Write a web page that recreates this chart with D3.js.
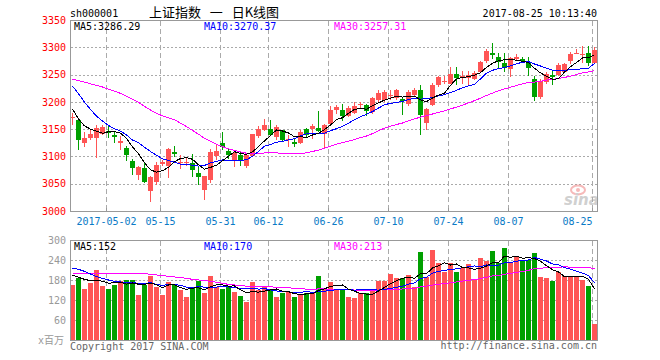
<!DOCTYPE html>
<html><head><meta charset="utf-8">
<script src="https://cdn.jsdelivr.net/npm/d3@7"></script>
<style>
html,body{margin:0;padding:0;background:#fff;}
svg{display:block;}
text{font-family:"DejaVu Sans Mono",monospace;font-size:10px;}
</style></head><body>
<svg id="chart" width="660" height="360"></svg>
<script>
const dates = ["2017-04-21","2017-04-24","2017-04-25","2017-04-26","2017-04-27","2017-04-28","2017-05-02","2017-05-03","2017-05-04","2017-05-05",
"2017-05-08","2017-05-09","2017-05-10","2017-05-11","2017-05-12","2017-05-15","2017-05-16","2017-05-17","2017-05-18","2017-05-19",
"2017-05-22","2017-05-23","2017-05-24","2017-05-25","2017-05-26","2017-05-31","2017-06-01","2017-06-02","2017-06-05","2017-06-06",
"2017-06-07","2017-06-08","2017-06-09","2017-06-12","2017-06-13","2017-06-14","2017-06-15","2017-06-16","2017-06-19","2017-06-20",
"2017-06-21","2017-06-22","2017-06-23","2017-06-26","2017-06-27","2017-06-28","2017-06-29","2017-06-30","2017-07-03","2017-07-04",
"2017-07-05","2017-07-06","2017-07-07","2017-07-10","2017-07-11","2017-07-12","2017-07-13","2017-07-14","2017-07-17","2017-07-18",
"2017-07-19","2017-07-20","2017-07-21","2017-07-24","2017-07-25","2017-07-26","2017-07-27","2017-07-28","2017-07-31","2017-08-01",
"2017-08-02","2017-08-03","2017-08-04","2017-08-07","2017-08-08","2017-08-09","2017-08-10","2017-08-11","2017-08-14","2017-08-15",
"2017-08-16","2017-08-17","2017-08-18","2017-08-21","2017-08-22","2017-08-23","2017-08-24","2017-08-25"];

const open = [3170,3166,3125,3133,3133,3142,3147,3139,3125,3115,
3091,3066,3078,3037,3054,3087,3083,3109,3088,3088,
3088,3070,3039,3056,3100,3125,3110,3094,3103,3083,
3100,3137,3148,3151,3136,3148,3130,3127,3125,3150,
3150,3153,3142,3159,3185,3185,3174,3179,3194,3194,
3181,3203,3204,3211,3207,3205,3196,3213,3222,3161,
3194,3230,3236,3233,3251,3246,3243,3242,3254,3275,
3290,3282,3271,3260,3279,3279,3272,3241,3208,3236,
3250,3249,3255,3275,3290,3286,3290,3272];
const high = [3180,3166,3145,3150,3157,3158,3156,3146,3137,3120,
3095,3083,3089,3064,3089,3094,3116,3120,3103,3097,
3105,3081,3065,3113,3122,3145,3114,3110,3108,3104,
3141,3156,3168,3166,3158,3149,3140,3133,3148,3153,
3159,3183,3159,3193,3194,3196,3193,3199,3200,3196,
3208,3222,3222,3222,3224,3209,3222,3226,3231,3188,
3234,3248,3248,3263,3263,3256,3256,3256,3275,3296,
3308,3290,3290,3282,3287,3282,3283,3247,3242,3255,
3256,3272,3272,3291,3296,3303,3302,3300];
const low = [3158,3111,3117,3130,3097,3140,3134,3124,3111,3091,
3066,3056,3051,3016,3048,3083,3060,3099,3077,3083,
3062,3048,3020,3051,3094,3111,3095,3081,3083,3079,
3099,3134,3146,3138,3131,3126,3118,3117,3122,3135,
3132,3145,3116,3159,3177,3165,3172,3177,3188,3175,
3177,3199,3200,3204,3204,3176,3193,3210,3139,3148,
3192,3228,3232,3233,3231,3233,3231,3240,3252,3272,
3279,3261,3254,3246,3275,3273,3248,3202,3206,3233,
3230,3248,3253,3270,3288,3272,3266,3271];
const close = [3173.15,3129.53,3134.57,3140.85,3152.19,3154.66,3143.71,3135.35,3127.37,3103.04,
3078.61,3080.53,3052.79,3061.50,3083.51,3090.23,3112.96,3104.44,3090.14,3090.63,
3075.68,3061.95,3064.08,3107.83,3110.06,3117.18,3102.62,3105.54,3091.66,3102.10,
3140.32,3150.33,3158.40,3139.88,3153.74,3130.67,3132.49,3123.17,3144.37,3140.01,
3156.21,3147.45,3157.87,3185.44,3191.20,3173.20,3188.06,3192.43,3195.91,3182.80,
3207.13,3216.44,3217.96,3212.63,3221.50,3201.54,3218.16,3222.42,3176.46,3187.57,
3230.98,3244.86,3237.98,3250.60,3243.69,3247.67,3249.78,3253.24,3273.03,3292.64,
3285.06,3272.93,3262.08,3279.46,3281.87,3275.57,3261.75,3208.54,3237.36,3251.26,
3246.45,3268.43,3268.72,3286.91,3290.23,3287.71,3271.51,3295.09];

const ma5 = [3187.0,3168.4,3156.0,3150.1,3146.1,3142.4,3145.2,3145.4,3142.7,3132.8,
3117.6,3105.0,3088.5,3075.3,3071.4,3073.7,3080.2,3090.5,3096.2,3097.7,
3094.8,3084.6,3076.5,3080.0,3083.9,3092.2,3100.4,3108.6,3105.4,3103.8,
3108.4,3118.0,3128.6,3138.2,3148.5,3146.6,3143.0,3136.0,3136.9,3134.2,
3139.3,3142.3,3149.2,3157.4,3167.6,3171.0,3179.2,3186.1,3188.2,3186.5,
3193.3,3198.1,3203.2,3206.6,3210.6,3208.7,3209.9,3210.7,3203.5,3200.4,
3207.1,3212.5,3215.6,3230.4,3241.6,3245.0,3246.0,3249.0,3253.5,3263.3,
3270.7,3275.4,3277.1,3278.4,3276.3,3274.4,3272.2,3261.5,3253.0,3246.9,
3241.1,3242.4,3254.5,3264.4,3272.1,3280.4,3281.0,3286.3];
const ma10 = [3228.9,3214.9,3199.5,3186.2,3173.8,3164.7,3156.8,3150.7,3146.4,3139.5,
3130.0,3125.1,3116.9,3109.0,3102.1,3095.7,3092.6,3089.5,3085.8,3084.5,
3084.2,3082.4,3083.5,3088.1,3090.8,3093.5,3092.5,3092.6,3092.7,3093.9,
3100.3,3109.2,3118.6,3121.8,3126.2,3127.5,3130.5,3132.3,3137.6,3141.3,
3142.9,3142.7,3142.6,3147.2,3150.9,3155.2,3160.7,3167.6,3172.8,3177.1,
3182.2,3188.6,3194.7,3197.4,3198.6,3201.0,3204.0,3207.0,3205.1,3205.5,
3207.9,3211.2,3213.2,3217.0,3221.0,3226.1,3229.2,3232.3,3242.0,3252.5,
3257.9,3260.7,3263.1,3266.0,3269.8,3272.6,3273.8,3269.3,3265.7,3261.6,
3257.8,3257.3,3258.0,3258.7,3259.5,3260.7,3261.7,3270.4];
const ma30 = [3241.7,3238.8,3236.2,3233.0,3230.1,3227.2,3223.0,3219.6,3215.5,3210.2,
3204.6,3199.0,3191.8,3185.0,3179.3,3174.3,3171.0,3167.1,3161.1,3154.7,
3147.7,3140.8,3133.3,3127.8,3122.2,3117.9,3114.0,3110.9,3108.3,3105.9,
3104.9,3105.6,3106.3,3106.3,3106.4,3105.6,3105.2,3104.8,3105.3,3106.6,
3109.2,3111.4,3114.9,3119.0,3122.6,3125.4,3127.9,3130.8,3134.4,3137.4,
3141.8,3146.8,3152.0,3155.4,3158.5,3161.2,3165.1,3169.0,3171.8,3174.6,
3177.7,3180.8,3183.5,3187.2,3190.2,3194.1,3198.0,3202.3,3206.6,3211.7,
3216.0,3220.2,3223.6,3226.8,3229.8,3233.2,3235.7,3236.2,3237.6,3239.9,
3241.2,3243.0,3244.7,3247.2,3250.1,3253.1,3254.9,3257.3];

const volume = [165,187,153,172,210,162,153,165,177,180,
180,135,165,192,158,135,175,169,150,130,
155,178,142,193,160,153,160,145,133,115,
175,150,160,150,130,140,145,130,135,142,
142,193,155,175,150,152,130,125,140,142,
150,178,178,198,187,185,195,160,265,190,
270,230,205,230,205,215,228,183,246,238,
267,230,277,230,252,237,240,262,190,185,
178,205,192,188,188,180,162,48];
const volMa5 = [195,188,182,178,177.4,176.8,170,172.4,173.4,167.4,
171,167.4,167.4,170.4,166,157,165,165.8,157.4,151.8,
155.8,156.4,151,159.6,165.6,165.2,161.6,162.2,150.2,141.2,
145.6,143.6,146.6,150,153,146,145,139,136,138.4,
138.8,148.4,153.4,161.4,163,165,152.4,146.4,139.4,137.8,
137.4,147,157.6,169.2,178.2,185.2,188.6,185,198.4,199,
216,223,232,225,228,217,216.6,212.2,215.4,222,
232.4,232.8,251.6,248.4,251.2,245.2,247.2,244.2,236.2,222.8,
211,204,190,189.6,190.2,190.6,182,153.2];
const volMa10 = [215,212,206,198,190,185,180,176,174,172.4,
173.9,168.7,169.9,171.9,166.7,164,166.2,166.6,163.9,158.9,
156.4,160.7,158.4,158.5,158.7,160.5,159,156.6,154.9,153.4,
155.4,152.6,154.4,150.1,147.1,145.8,144.3,142.8,143,145.7,
142.4,146.7,146.2,148.7,150.7,151.9,150.4,149.9,150.4,150.4,
151.2,149.7,152,154.3,158,161.3,167.8,171.3,183.8,188.6,
200.6,205.8,208.5,211.7,213.5,216.5,219.8,222.1,220.2,225,
224.7,224.7,231.9,231.9,236.6,238.8,240,247.9,242.3,237,
228.1,225.6,217.1,212.9,206.5,200.8,193,171.6];
const volMa30 = [200,200,200,200,201,201,201,200,200,200,
200,200,199,197,195,193,191,189,187,185,
182,180,178,176,173,170,167,165,163,161.6,
161.9,160.7,160.9,160.2,157.5,156.8,156.5,155.3,153.9,152.7,
151.4,153.3,153,152.4,152.2,152.7,151.2,149.8,149.4,149.8,
149.7,149.7,150.9,151,151.9,153,154.2,154.7,159.1,161.6,
164.7,167.4,168.9,171.6,174.1,176.6,179.3,181.1,184.8,188,
192.2,193.4,197.5,199.3,202.7,205.5,209.2,213.8,215.4,216.9,
217.8,218.7,219.2,218.8,218.9,218.7,217.6,213.9];

const priceTicks = [3000,3050,3100,3150,3200,3250,3300,3350];
const volTicks = [60,120,180,240,300];
const xTickDates = ["2017-05-02","2017-05-15","2017-05-31","2017-06-12","2017-06-26","2017-07-10","2017-07-24","2017-08-07","2017-08-25"];
const xTickLabels = ["2017-05-02","05-15","05-31","06-12","06-26","07-10","07-24","08-07","08-25"];
const priceLegend = ["MA5:3286.29","MA10:3270.37","MA30:3257.31"];
const volLegend = ["MA5:152","MA10:170","MA30:213"];

const UP = "#ff5555", DOWN = "#00a000", GRID = "#aaaaaa", FRAME = "#999999";
const lineColors = ["#000000","#0000ff","#ff00ff"];
const legendColors = ["#000000","#0000ff","#ff00ff"];

const svg = d3.select("#chart");
const x = d3.scalePoint().domain(dates).range([70, 592]);
const y = d3.scaleLinear().domain([3000, 3350]).range([211, 20]);
const yv = d3.scaleLinear().domain([0, 300]).range([340, 240]);
const cx = d => x(d) + 2.5;

// header
svg.append("text").attr("x", 70).attr("y", 17).attr("fill", "#000").text("sh000001");
svg.append("text").attr("x", 214).attr("y", 17).attr("text-anchor", "middle")
  .style("font-family", '"Noto Sans CJK SC", sans-serif').style("font-size", "13px")
  .style("word-spacing", "6px").attr("fill", "#000").text("上证指数 一 日K线图");
svg.append("text").attr("x", 597).attr("y", 17).attr("text-anchor", "end").attr("fill", "#000").text("2017-08-25 10:13:40");

// grids main
const g = svg.append("g").attr("shape-rendering", "crispEdges");
g.selectAll(".hg").data(priceTicks.filter(t => t > 3000 && t < 3350)).join("line")
  .attr("x1", 71).attr("x2", 597).attr("y1", d => Math.round(y(d)) + 0.5).attr("y2", d => Math.round(y(d)) + 0.5)
  .attr("stroke", GRID).attr("stroke-dasharray", "2,2");
g.selectAll(".vg").data(xTickDates).join("line")
  .attr("x1", d => x(d) + 0.5).attr("x2", d => x(d) + 0.5).attr("y1", 21).attr("y2", 211)
  .attr("stroke", GRID).attr("stroke-dasharray", "5,3");
// grids volume
g.selectAll(".hvg").data(volTicks.filter(t => t < 300)).join("line")
  .attr("x1", 71).attr("x2", 597).attr("y1", d => Math.round(yv(d)) + 0.5).attr("y2", d => Math.round(yv(d)) + 0.5)
  .attr("stroke", GRID).attr("stroke-dasharray", "2,2");
g.selectAll(".vvg").data(xTickDates).join("line")
  .attr("x1", d => x(d) + 0.5).attr("x2", d => x(d) + 0.5).attr("y1", 241).attr("y2", 340)
  .attr("stroke", GRID).attr("stroke-dasharray", "5,3");

// sina watermark
const wm = svg.append("g").attr("opacity", 0.55);
wm.append("ellipse").attr("cx", 578).attr("cy", 190).attr("rx", 7).attr("ry", 4.5).attr("fill", "none").attr("stroke", "#f08080").attr("stroke-width", 2);
wm.append("circle").attr("cx", 578).attr("cy", 190).attr("r", 2).attr("fill", "#f08080");
wm.append("text").attr("x", 564).attr("y", 205).style("font-family", "'DejaVu Sans', sans-serif").style("font-size", "15px")
  .style("font-weight", "bold").style("font-style", "italic").attr("fill", "#aaa").text("sina");

// candles
const idx = d3.range(dates.length);
const cg = svg.append("g").attr("shape-rendering", "crispEdges");
const colorOf = i => close[i] >= open[i] ? UP : DOWN;
cg.selectAll(".wick").data(idx).join("line")
  .attr("x1", i => cx(dates[i])).attr("x2", i => cx(dates[i]))
  .attr("y1", i => y(high[i])).attr("y2", i => y(low[i]))
  .attr("stroke", colorOf);
cg.selectAll(".body").data(idx).join("rect")
  .attr("x", i => x(dates[i])).attr("width", 5)
  .attr("y", i => Math.min(y(open[i]), y(close[i])))
  .attr("height", i => Math.max(1, Math.abs(y(open[i]) - y(close[i]))))
  .attr("fill", colorOf);

// volume bars
cg.selectAll(".vol").data(idx).join("rect")
  .attr("x", i => x(dates[i])).attr("width", 5)
  .attr("y", i => yv(volume[i])).attr("height", i => 340 - yv(volume[i]))
  .attr("fill", colorOf);

// MA lines
const priceLine = d3.line().x((v, i) => cx(dates[i])).y(v => y(v));
const volLine = d3.line().x((v, i) => cx(dates[i])).y(v => yv(v));
[ma30, ma10, ma5].forEach((s, k) => {
  svg.append("path").datum(s).attr("d", priceLine).attr("fill", "none")
    .attr("stroke", lineColors[2 - k]).attr("stroke-width", 1).attr("shape-rendering", "crispEdges");
});
[volMa30, volMa10, volMa5].forEach((s, k) => {
  svg.append("path").datum(s).attr("d", volLine).attr("fill", "none")
    .attr("stroke", lineColors[2 - k]).attr("stroke-width", 1).attr("shape-rendering", "crispEdges");
});

// frames
const fr = svg.append("g").attr("shape-rendering", "crispEdges").attr("stroke", FRAME).attr("fill", "none");
fr.append("rect").attr("x", 70.5).attr("y", 20.5).attr("width", 527).attr("height", 191);
fr.append("rect").attr("x", 70.5).attr("y", 240.5).attr("width", 527).attr("height", 100);
fr.selectAll(".tk").data(xTickDates).join("line")
  .attr("x1", d => x(d) + 0.5).attr("x2", d => x(d) + 0.5).attr("y1", 208).attr("y2", 212);

// axes
const ax = svg.append("g").attr("transform", "translate(70,0)")
  .call(d3.axisLeft(y).tickValues(priceTicks).tickSize(0).tickPadding(4).tickFormat(d3.format("d")));
ax.select(".domain").remove();
ax.selectAll("text").attr("fill", "#ff0000").style("font-family", '"DejaVu Sans Mono", monospace').style("font-size", "10px");

const avx = svg.append("g").attr("transform", "translate(70,0)")
  .call(d3.axisLeft(yv).tickValues(volTicks).tickSize(0).tickPadding(4).tickFormat(d3.format("d")));
avx.select(".domain").remove();
avx.selectAll("text").attr("fill", "#999").style("font-family", '"DejaVu Sans Mono", monospace').style("font-size", "10px");
svg.append("text").attr("x", 64).attr("y", 340).attr("dy", "0.35em").attr("text-anchor", "end")
  .attr("fill", "#999").style("font-family", '"DejaVu Sans Mono","Noto Sans CJK SC", monospace').style("font-size", "10px").text("x百万");

const bx = svg.append("g").attr("transform", "translate(0,211)")
  .call(d3.axisBottom(x).tickValues(xTickDates).tickSize(0).tickPadding(7).tickFormat((d, i) => xTickLabels[i]));
bx.select(".domain").remove();
bx.selectAll("text").attr("fill", "#0a7ac6").style("font-family", '"DejaVu Sans Mono", monospace').style("font-size", "10px");
bx.selectAll("text").filter((d, i) => i === xTickDates.length - 1).attr("text-anchor", "end");

// legends
const lx = [74, 204, 334];
priceLegend.forEach((t, k) => svg.append("text").attr("x", lx[k]).attr("y", 30).attr("fill", legendColors[k]).text(t));
volLegend.forEach((t, k) => svg.append("text").attr("x", lx[k]).attr("y", 250).attr("fill", legendColors[k]).text(t));

// footer
svg.append("text").attr("x", 70).attr("y", 350).attr("fill", "#666").text("Copyright 2017 SINA.COM");
svg.append("text").attr("x", 597).attr("y", 349).attr("text-anchor", "end").attr("fill", "#666").text("http://finance.sina.com.cn");
</script>
</body></html>
